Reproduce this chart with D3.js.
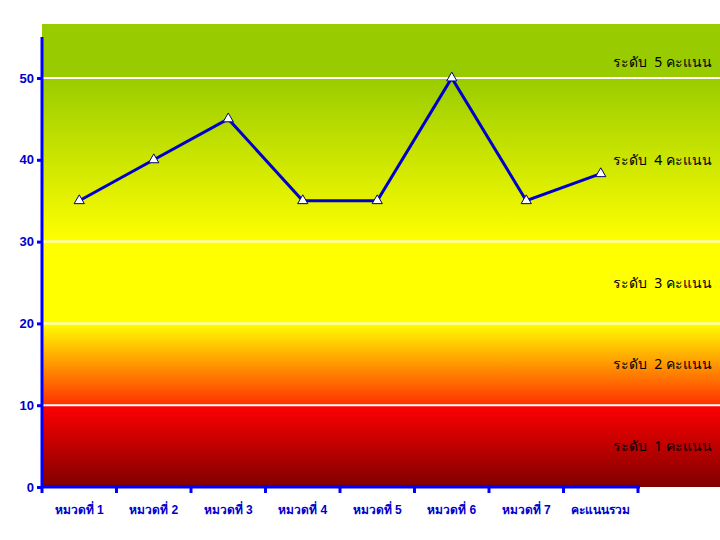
<!DOCTYPE html>
<html><head><meta charset="utf-8">
<script src="https://cdn.jsdelivr.net/npm/d3@7"></script>
<style>body{margin:0;background:#fff}</style>
</head><body>
<script>
const categories = ['หมวดที่ 1','หมวดที่ 2','หมวดที่ 3','หมวดที่ 4','หมวดที่ 5','หมวดที่ 6','หมวดที่ 7','คะแนนรวม'];
const scores = [35, 40, 45, 35, 35, 50, 35, 38.3];
const yTicks = [0, 10, 20, 30, 40, 50];
const bandLines = [10, 20, 30, 50];
const levelLabels = ['ระดับ  1 คะแนน','ระดับ  2 คะแนน','ระดับ  3 คะแนน','ระดับ  4 คะแนน','ระดับ  5 คะแนน'];
const levelValues = [5, 15, 25, 40, 52];

const W = 720, H = 540;
const svg = d3.select('body').append('svg').attr('width', W).attr('height', H);
const x = d3.scaleBand().domain(categories).range([42, 638]);
const y = d3.scaleLinear().domain([0, 50]).range([487, 78]);

// background bands
const defs = svg.append('defs');
function grad(id, stops) {
  const g = defs.append('linearGradient').attr('id', id).attr('x1', 0).attr('y1', 0).attr('x2', 0).attr('y2', 1);
  stops.forEach(([o, c]) => g.append('stop').attr('offset', o).attr('stop-color', c));
}
grad('g1', [[0, '#ff0000'], [1, '#800000']]);
grad('g2', [[0, '#ffff00'], [1, '#ff3000']]);
grad('g4', [[0, '#99cc00'], [1, '#ffff00']]);
const bands = [
  {lo: 0, hi: 10, fill: 'url(#g1)'},
  {lo: 10, hi: 20, fill: 'url(#g2)'},
  {lo: 20, hi: 30, fill: '#ffff00'},
  {lo: 30, hi: 50, fill: 'url(#g4)'},
  {lo: 50, hi: 56.6, fill: '#99cc00'}
];
svg.selectAll('rect.band').data(bands).join('rect')
  .attr('x', 42).attr('width', W - 42)
  .attr('y', d => y(d.hi)).attr('height', d => y(d.lo) - y(d.hi))
  .attr('fill', d => d.fill);
svg.selectAll('line.bl').data(bandLines).join('line')
  .attr('x1', 42).attr('x2', W).attr('y1', d => y(d)).attr('y2', d => y(d))
  .attr('stroke', '#fff').attr('stroke-width', 2);

svg.selectAll('text.lvl').data(levelLabels).join('text')
  .attr('x', 712).attr('y', (d, i) => y(levelValues[i]) + 5)
  .attr('text-anchor', 'end').attr('font-size', 14)
  .attr('font-family', 'Tahoma, "Noto Sans", sans-serif').attr('fill', '#000')
  .style('white-space', 'pre').text(d => d);

// axes
const yAxis = svg.append('g').attr('transform', 'translate(42,0)')
  .call(d3.axisLeft(y).tickValues(yTicks).tickSize(5));
yAxis.select('.domain').attr('d', `M0,${y(0)}V37`);
const xAxis = svg.append('g').attr('transform', `translate(0,${y(0)})`)
  .call(d3.axisBottom(x).tickSize(0).tickPadding(18));
xAxis.select('.domain').attr('d', 'M42,0H640');
xAxis.selectAll('line.t').data(d3.range(categories.length + 1)).join('line')
  .attr('class', 't').attr('x1', i => 42 + i * x.step()).attr('x2', i => 42 + i * x.step())
  .attr('y1', 0).attr('y2', 6);
[yAxis, xAxis].forEach(a => {
  a.selectAll('.domain').attr('stroke', '#0000ff').attr('stroke-width', 3);
  a.selectAll('line').attr('stroke', '#0000ff').attr('stroke-width', 3);
  a.selectAll('text').attr('fill', '#0000cc').attr('font-weight', 'bold')
    .attr('font-family', 'Arial, "Noto Sans", sans-serif').attr('font-size', 12);
});
yAxis.selectAll('text').attr('font-size', 13);

// line
const cx = d => x(d) + x.bandwidth() / 2;
svg.append('path').datum(scores)
  .attr('fill', 'none').attr('stroke', '#0000cc').attr('stroke-width', 3)
  .attr('d', d3.line().x((d, i) => cx(categories[i])).y(d => y(d)));
svg.selectAll('path.pt').data(scores).join('path')
  .attr('transform', (d, i) => `translate(${cx(categories[i])},${y(d)})`)
  .attr('d', d3.symbol(d3.symbolTriangle, 45))
  .attr('fill', '#fff').attr('stroke', '#000080').attr('stroke-width', 1);
</script>
</body></html>
